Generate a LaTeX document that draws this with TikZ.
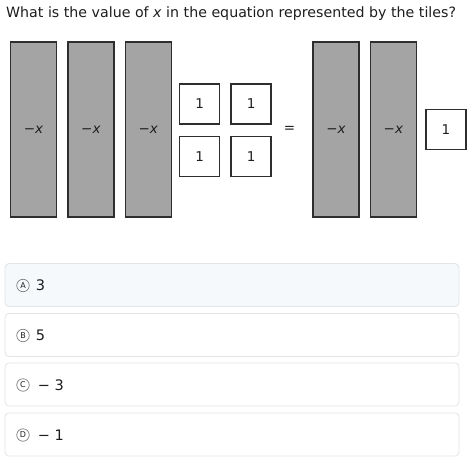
\documentclass[tikz,border=0pt]{standalone}
\usepackage{fontspec}
\setmainfont{DejaVu Sans}
\usetikzlibrary{positioning}
\definecolor{tgray}{HTML}{A4A4A4}
\definecolor{tedge}{HTML}{2E2E2E}
\definecolor{obord}{HTML}{E2E4E6}
\definecolor{oblue}{HTML}{F5F9FC}
\definecolor{ctext}{HTML}{1E1E1E}
\tikzstyle{xtile} = [rectangle, draw = tedge, line width = 1.4pt, fill = tgray, minimum width = 46pt, minimum height = 175pt, inner sep = 0pt, text = ctext, font = \fontsize{13.5}{15}\selectfont]
\tikzstyle{unit} = [rectangle, draw = tedge, line width = 1.4pt, fill = white, minimum width = 40pt, minimum height = 40pt, inner sep = 0pt, text = ctext, font = \fontsize{13.5}{15}\selectfont]
\tikzstyle{option} = [rectangle, rounded corners = 4pt, draw = obord, line width = 0.8pt, fill = white, minimum width = 454pt, minimum height = 43pt, inner sep = 0pt]
\tikzstyle{letter} = [circle, draw = gray, line width = 0.7pt, minimum size = 12.5pt, inner sep = 0pt, text = ctext, font = \fontsize{8}{9}\selectfont]
\tikzstyle{answer} = [anchor = west, inner sep = 0pt, text = ctext, font = \fontsize{14.5}{16}\selectfont]

\begin{document}
\begin{tikzpicture}[x = 1pt, y = -1pt, node distance = 10pt]
  \fill [white] (0,0) rectangle (474,463);
  \useasboundingbox (0,0) rectangle (474,463);
  \node (title) [anchor = base west, inner sep = 0pt, text = ctext, font = \fontsize{14.2}{16}\selectfont] at (6,17) {What is the value of \textit{x} in the equation represented by the tiles?};
  % left side
  \node (lx1) [xtile] at (33.5,129.5) {−\textit{x}};
  \node (lx2) [xtile, right = of lx1] {−\textit{x}};
  \node (lx3) [xtile, right = of lx2] {−\textit{x}};
  \node (u1) [unit, right = 7pt of lx3, yshift = 25.5pt] {1};
  \node (u2) [unit, right = of u1] {1};
  \node (u3) [unit, below = 11pt of u1] {1};
  \node (u4) [unit, below = 11pt of u2] {1};
  \node (eq) [text = ctext, font = \fontsize{13.5}{15}\selectfont] at (289.5,129.5) {=};
  % right side
  \node (rx1) [xtile] at (336,129.5) {−\textit{x}};
  \node (rx2) [xtile, right = of rx1] {−\textit{x}};
  \node (r1) [unit, right = 8pt of rx2] {1};
  % choices
  \node (optA) [option, fill = oblue] at (232,285) {};
  \node (optB) [option] at (232,335) {};
  \node (optC) [option] at (232,384.5) {};
  \node (optD) [option] at (232,434.5) {};
  \node (cA) [letter] at (23,285.5) {A};
  \node (cB) [letter] at (23,335.5) {B};
  \node (cC) [letter] at (23,385) {C};
  \node (cD) [letter] at (23,435) {D};
  \node (ansA) [answer, right = 6pt of cA] {3};
  \node (ansB) [answer, right = 6pt of cB] {5};
  \node (ansC) [answer, right = 8pt of cC] {− 3};
  \node (ansD) [answer, right = 8pt of cD] {− 1};
\end{tikzpicture}
\end{document}
